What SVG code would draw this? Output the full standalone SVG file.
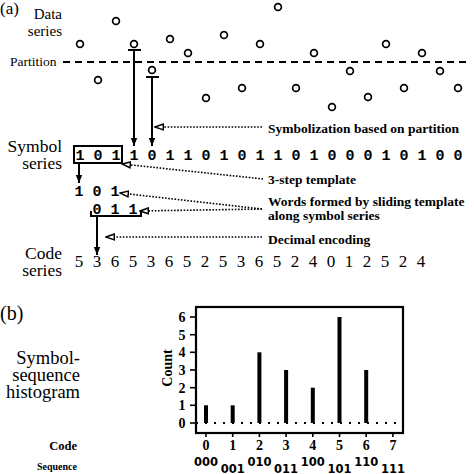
<svg xmlns="http://www.w3.org/2000/svg" width="474" height="474" viewBox="0 0 474 474">
<style>
.serif{font-family:"Liberation Serif","Times New Roman",serif;fill:#000}
.lbl{font-family:"Liberation Serif","Times New Roman",serif;font-size:17.5px;text-anchor:end;fill:#000}
.note{font-family:"Liberation Serif","Times New Roman",serif;font-size:13.5px;font-weight:bold;fill:#000}
.mono{font-family:"Liberation Mono","Courier New",monospace;font-size:15px;font-weight:bold;fill:#000}
.pt{fill:#fff;stroke:#000;stroke-width:1.7}
.solid{fill:none;stroke:#000;stroke-width:2}
.dot{fill:none;stroke:#000;stroke-width:1.6;stroke-dasharray:1.6 1.6}
.tick{font-family:"Liberation Serif","Times New Roman",serif;font-size:14px;font-weight:bold;text-anchor:middle;fill:#000}
.seq{font-family:"DejaVu Sans",sans-serif;font-size:11.5px;font-weight:bold;text-anchor:middle;fill:#000}
.bar{fill:#000}
</style>
<defs>
<marker id="ah" viewBox="0 0 10 10" refX="10" refY="5" markerWidth="8" markerHeight="8" markerUnits="userSpaceOnUse" orient="auto">
<path d="M0,1 L10,5 L0,9 z" fill="#000"/>
</marker>
<marker id="oh" viewBox="0 0 12 10" refX="11" refY="5" markerWidth="10" markerHeight="8.3" markerUnits="userSpaceOnUse" orient="auto">
<path d="M1,1.5 L11,5 L1,8.5 z" fill="#fff" stroke="#000" stroke-width="1.8" stroke-dasharray="none"/>
</marker>
</defs>

<g id="panel-a-label"><text class="serif" x="0" y="14" font-size="17">(a)</text></g>

<g id="data-series">
<text class="serif" x="62" y="19" font-size="15" text-anchor="end">Data</text>
<text class="serif" x="62" y="36" font-size="15" text-anchor="end">series</text>
<circle class="pt" cx="80" cy="44" r="3.4"/>
<circle class="pt" cx="98" cy="80" r="3.4"/>
<circle class="pt" cx="116" cy="21" r="3.4"/>
<circle class="pt" cx="134" cy="44" r="3.4"/>
<circle class="pt" cx="152" cy="70" r="3.4"/>
<circle class="pt" cx="170" cy="39" r="3.4"/>
<circle class="pt" cx="188" cy="53" r="3.4"/>
<circle class="pt" cx="206" cy="98" r="3.4"/>
<circle class="pt" cx="224" cy="35" r="3.4"/>
<circle class="pt" cx="242" cy="88" r="3.4"/>
<circle class="pt" cx="260" cy="44" r="3.4"/>
<circle class="pt" cx="278" cy="7" r="3.4"/>
<circle class="pt" cx="296" cy="88" r="3.4"/>
<circle class="pt" cx="314" cy="53" r="3.4"/>
<circle class="pt" cx="332" cy="107" r="3.4"/>
<circle class="pt" cx="350" cy="71" r="3.4"/>
<circle class="pt" cx="368" cy="97" r="3.4"/>
<circle class="pt" cx="386" cy="44" r="3.4"/>
<circle class="pt" cx="404" cy="88" r="3.4"/>
<circle class="pt" cx="422" cy="53" r="3.4"/>
<circle class="pt" cx="440" cy="71" r="3.4"/>
<circle class="pt" cx="458" cy="88" r="3.4"/>
</g>

<g id="partition">
<text class="serif" x="10" y="66" font-size="13.5">Partition</text>
<line x1="63" y1="62" x2="468" y2="62" stroke="#000" stroke-width="2" stroke-dasharray="7 5"/>
</g>

<g id="symbol-series">
<text class="lbl" x="62" y="152">Symbol</text>
<text class="lbl" x="62" y="168.5">series</text>
<text class="mono" x="75.5" y="160">1 0 1 1 0 1 1 0 1 0 1 1 0 1 0 0 0 1 0 1 0 0</text>
<rect class="solid" x="74" y="146" width="48" height="17"/>
</g>

<g id="words">
<text class="mono" x="74.5" y="196">1 0 1</text>
<text class="mono" x="92.5" y="214">0 1 1</text>
<path class="solid" d="M91,211 V216 H141 V211"/>
</g>

<g id="code-series">
<text class="lbl" x="62" y="259">Code</text>
<text class="lbl" x="62" y="276">series</text>
<text class="serif" font-size="17" y="267" x="74.75 92.75 110.75 128.75 146.75 164.75 182.75 200.75 218.75 236.75 254.75 272.75 290.75 308.75 326.75 344.75 362.75 380.75 398.75 416.75">53653652536524012524</text>
</g>

<g id="annotations">
<text class="note" x="268" y="133">Symbolization based on partition</text>
<text class="note" x="268" y="184">3-step template</text>
<text class="note" x="268" y="206">Words formed by sliding template</text>
<text class="note" x="268" y="220">along symbol series</text>
<text class="note" x="268" y="244">Decimal encoding</text>
</g>

<g id="connectors">
<line class="solid" x1="128" y1="50" x2="141" y2="50"/>
<line class="solid" x1="146" y1="77" x2="159" y2="77"/>
<line class="solid" x1="134" y1="50" x2="134" y2="146" marker-end="url(#ah)"/>
<line class="solid" x1="152" y1="77" x2="152" y2="146" marker-end="url(#ah)"/>
<line class="solid" x1="79" y1="163" x2="79" y2="183" marker-end="url(#ah)"/>
<line class="solid" x1="97" y1="216" x2="97" y2="255" marker-end="url(#ah)"/>
<line class="dot" x1="262" y1="127" x2="155" y2="127" marker-end="url(#oh)"/>
<line class="dot" x1="263" y1="179" x2="122" y2="164" marker-end="url(#oh)"/>
<line class="dot" x1="262" y1="209" x2="120" y2="193" marker-end="url(#oh)"/>
<line class="dot" x1="262" y1="209" x2="140" y2="211" marker-end="url(#oh)"/>
<line class="dot" x1="262" y1="237" x2="106" y2="237" marker-end="url(#oh)"/>
</g>

<g id="panel-b-label"><text class="serif" x="0" y="320" font-size="20">(b)</text></g>

<g id="histogram-title">
<text class="lbl" x="80" y="364" style="font-size:18.5px">Symbol-</text>
<text class="lbl" x="80" y="381" style="font-size:18.5px">sequence</text>
<text class="lbl" x="80" y="398" style="font-size:18.5px">histogram</text>
</g>

<g id="histogram">
<rect x="196" y="307" width="207" height="126" fill="none" stroke="#000" stroke-width="2.2"/>
<line x1="196" y1="423" x2="403" y2="423" stroke="#000" stroke-width="2" stroke-dasharray="2 7"/>
<g stroke="#000" stroke-width="1.6">
<line x1="190" y1="423" x2="196" y2="423"/>
<line x1="190" y1="405.3" x2="196" y2="405.3"/>
<line x1="190" y1="387.7" x2="196" y2="387.7"/>
<line x1="190" y1="370" x2="196" y2="370"/>
<line x1="190" y1="352.3" x2="196" y2="352.3"/>
<line x1="190" y1="334.7" x2="196" y2="334.7"/>
<line x1="190" y1="317" x2="196" y2="317"/>
<line x1="206" y1="433" x2="206" y2="437"/>
<line x1="232.7" y1="433" x2="232.7" y2="437"/>
<line x1="259.4" y1="433" x2="259.4" y2="437"/>
<line x1="286.1" y1="433" x2="286.1" y2="437"/>
<line x1="312.8" y1="433" x2="312.8" y2="437"/>
<line x1="339.5" y1="433" x2="339.5" y2="437"/>
<line x1="366.2" y1="433" x2="366.2" y2="437"/>
<line x1="392.9" y1="433" x2="392.9" y2="437"/>
</g>
<g class="tick">
<text x="182" y="428">0</text>
<text x="182" y="410.3">1</text>
<text x="182" y="392.7">2</text>
<text x="182" y="375">3</text>
<text x="182" y="357.3">4</text>
<text x="182" y="339.7">5</text>
<text x="182" y="322">6</text>
</g>
<text class="serif" font-size="14" font-weight="bold" text-anchor="middle" transform="translate(172,368) rotate(-90)">Count</text>
<rect class="bar" x="204" y="405.3" width="4" height="17.7"/>
<rect class="bar" x="230.7" y="405.3" width="4" height="17.7"/>
<rect class="bar" x="257.4" y="352.3" width="4" height="70.7"/>
<rect class="bar" x="284.1" y="370" width="4" height="53"/>
<rect class="bar" x="310.8" y="387.7" width="4" height="35.3"/>
<rect class="bar" x="337.5" y="317" width="4" height="106"/>
<rect class="bar" x="364.2" y="370" width="4" height="53"/>
<text class="serif" x="77" y="450" font-size="12.5" font-weight="bold" text-anchor="end">Code</text>
<g class="tick">
<text x="206" y="450">0</text>
<text x="232.7" y="450">1</text>
<text x="259.4" y="450">2</text>
<text x="286.1" y="450">3</text>
<text x="312.8" y="450">4</text>
<text x="339.5" y="450">5</text>
<text x="366.2" y="450">6</text>
<text x="392.9" y="450">7</text>
</g>
<text class="serif" x="77" y="470" font-size="10" font-weight="bold" text-anchor="end">Sequence</text>
<g class="seq">
<text x="206" y="466">000</text>
<text x="232.7" y="472.5">001</text>
<text x="259.4" y="466">010</text>
<text x="286.1" y="472.5">011</text>
<text x="312.8" y="466">100</text>
<text x="339.5" y="472.5">101</text>
<text x="366.2" y="466">110</text>
<text x="392.9" y="472.5">111</text>
</g>
</g>
</svg>
